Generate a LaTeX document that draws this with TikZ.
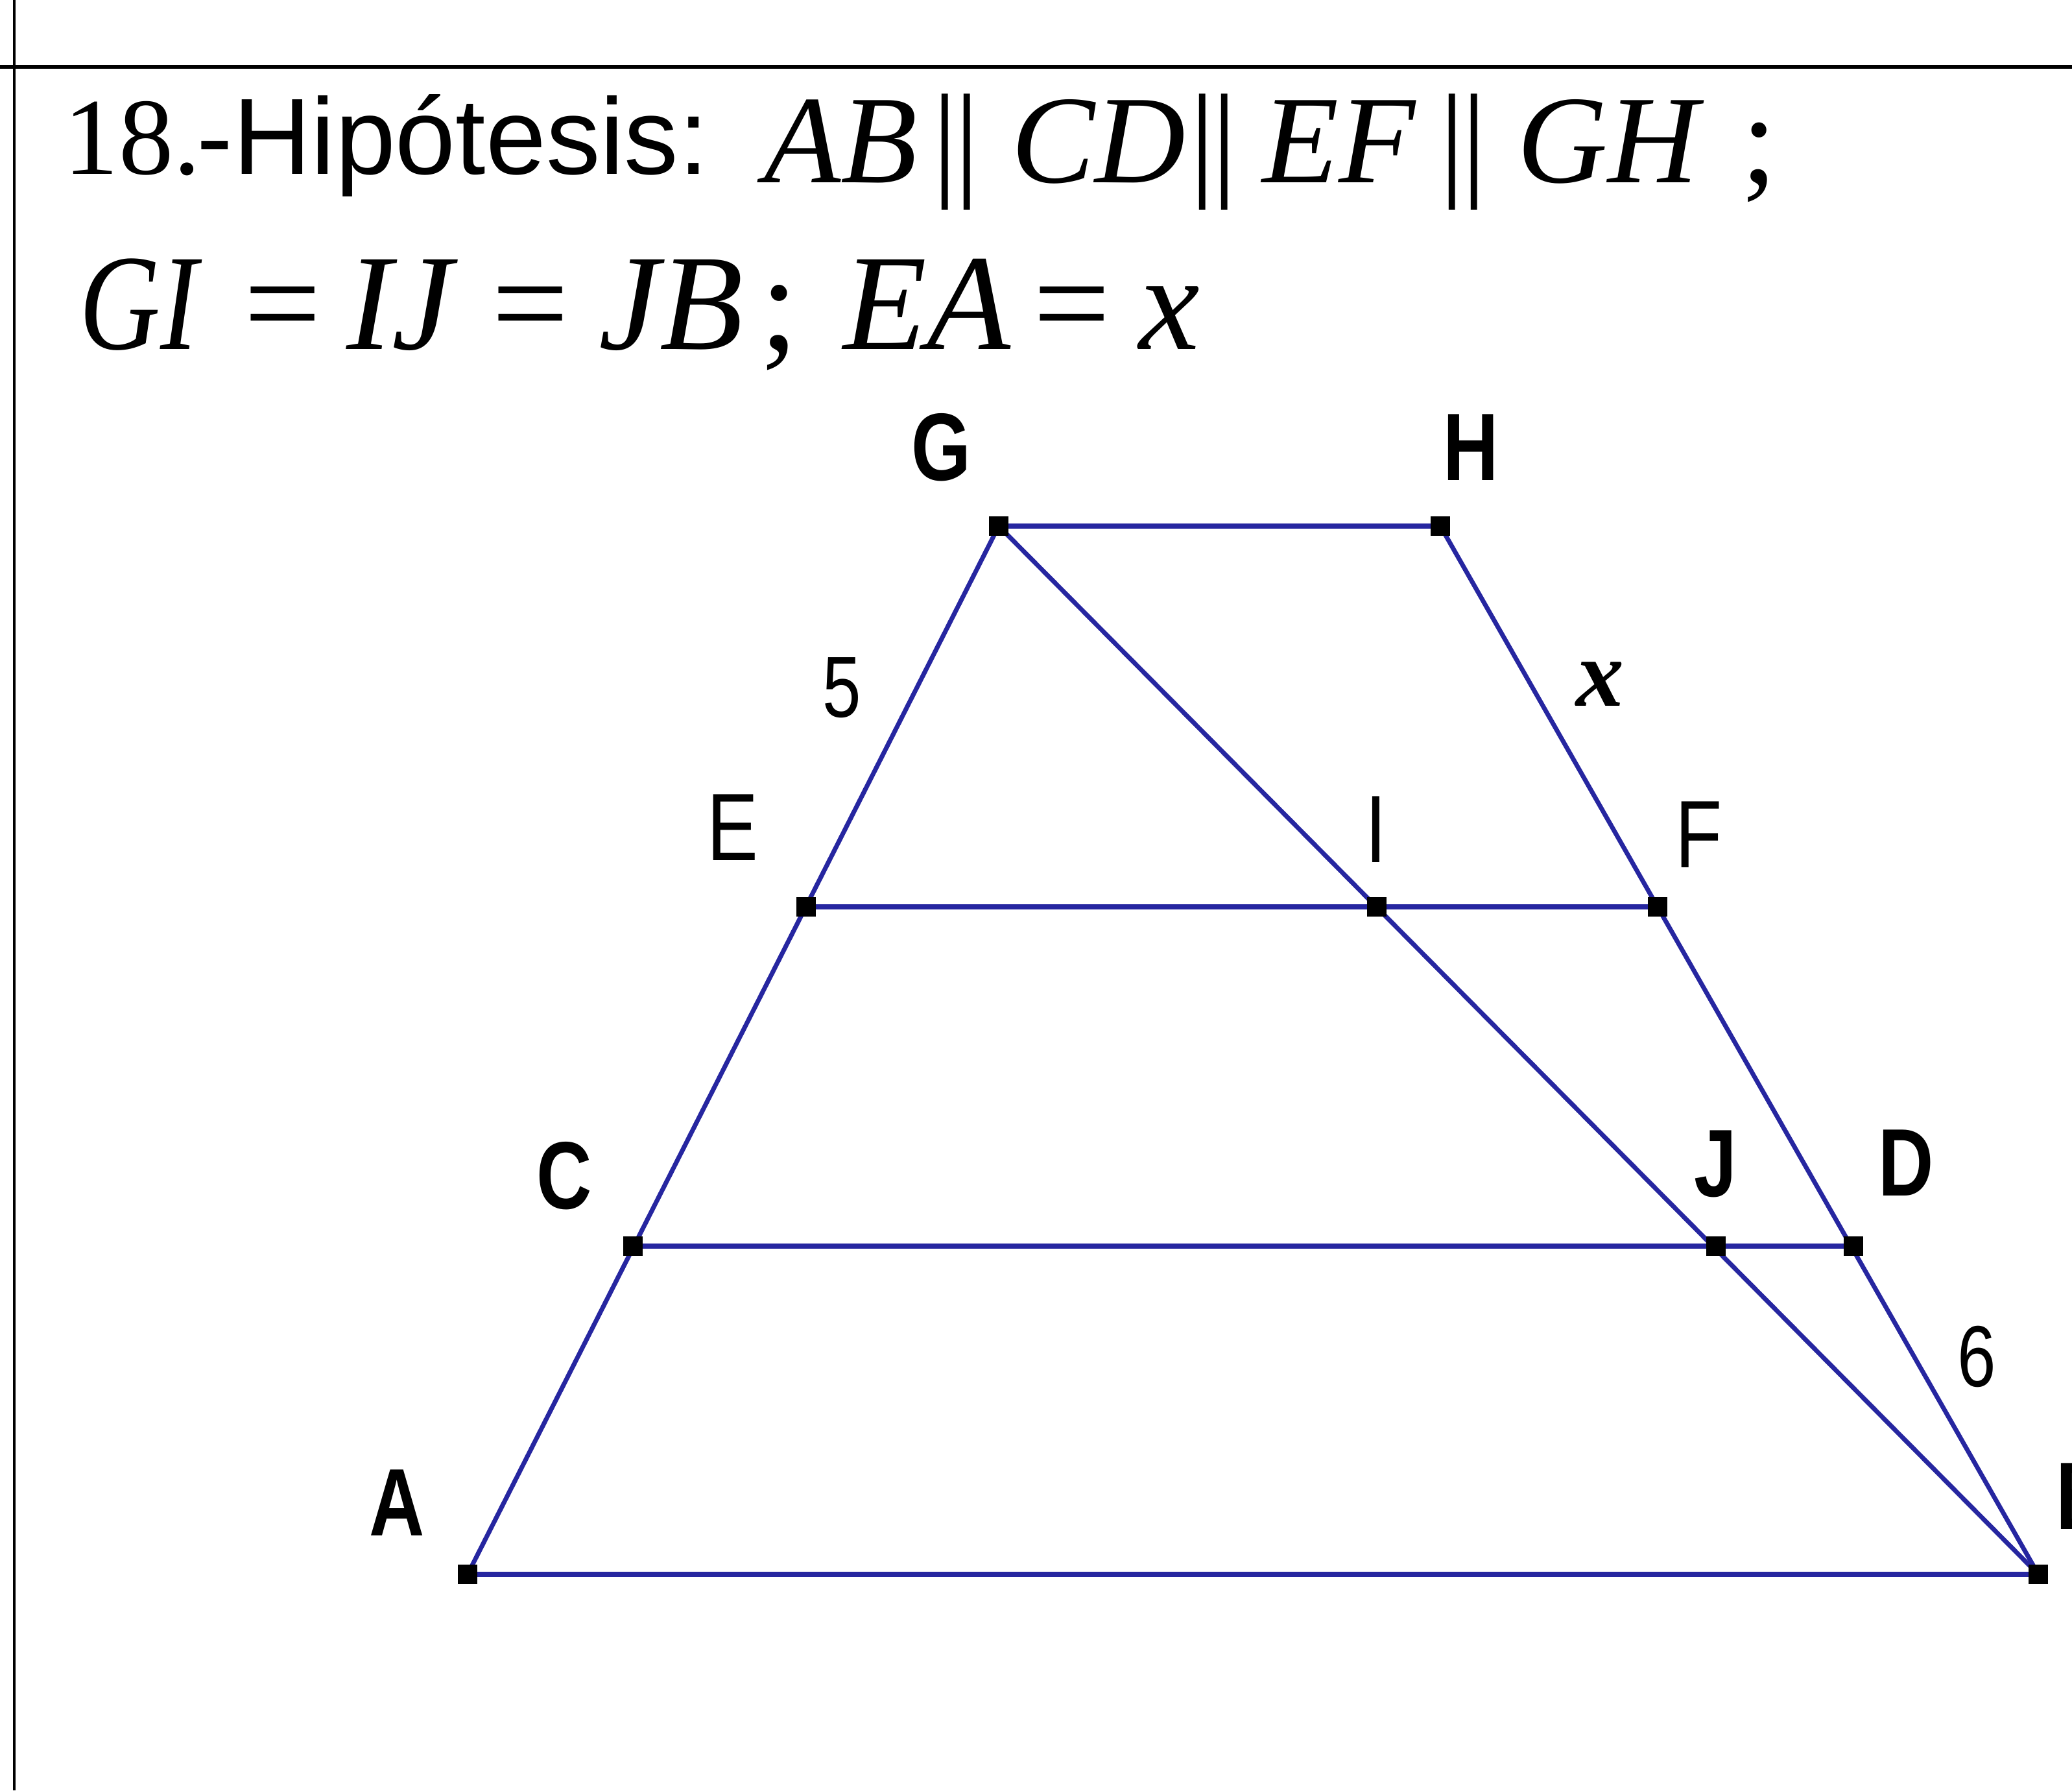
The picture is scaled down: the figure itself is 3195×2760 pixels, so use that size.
\documentclass[tikz,border=0pt]{standalone}
\usepackage{fontspec}
\setmainfont{Liberation Serif}
\newfontfamily\arialf{Liberation Sans}
\definecolor{segblue}{RGB}{38,38,160}
\newcommand{\nar}[1]{\scalebox{0.8}[1]{#1}}
\begin{document}
\begin{tikzpicture}[x=0.01cm,y=-0.01cm,
  seg/.style={draw=segblue,line width=0.085cm},
  slant/.style={draw=segblue,line width=0.07cm},
  pt/.style={rectangle,fill=black,minimum size=0.3cm,inner sep=0pt,outer sep=0pt},
  lblb/.style={inner sep=0pt,font=\arialf\bfseries\fontsize{42}{42}\selectfont},
  lblr/.style={inner sep=0pt,font=\arialf\fontsize{42}{42}\selectfont},
  num/.style={inner sep=0pt,font=\arialf\fontsize{38}{38}\selectfont},
  mone/.style={inner sep=0pt,anchor=base west,font=\itshape\fontsize{55}{55}\selectfont},
  mtwo/.style={inner sep=0pt,anchor=base west,font=\itshape\fontsize{60}{60}\selectfont},
  eqs/.style={inner sep=0pt,anchor=base,font=\fontsize{60}{60}\selectfont},
  par/.style={inner sep=0pt,anchor=base,font=\fontsize{56}{56}\selectfont}]
\useasboundingbox (0,0) rectangle (3195,2760);
\fill[white] (0,0) rectangle (3195,2760);
% frame
\coordinate (fL) at (0,103);
\coordinate (fR) at (3195,103);
\coordinate (vT) at (22,0);
\coordinate (vB) at (22,2760);
\draw[line width=0.06cm] (fL) -- (fR);
\draw[line width=0.045cm] (vT) -- (vB);
% heading
\node[inner sep=0pt,anchor=base west,font=\fontsize{48}{48}\selectfont] (num18) at (98,268) {18.};
\node[inner sep=0pt,anchor=base west,font=\arialf\fontsize{47.5}{47.5}\selectfont] (hip) at (303,268) {-Hipótesis:};
\node[mone] (tAB) at (1178,281) {AB};
\node[par] (p1) at (1474,281) {|\kern-1.6pt|};
\node[mone] (tCD) at (1559,281) {CD};
\node[par] (p2) at (1871,281) {|\kern-1.6pt|};
\node[mone] (tEF) at (1946,281) {EF};
\node[par] (p3) at (2256,281) {|\kern-1.6pt|};
\node[mone] (tGH) at (2339,281) {GH};
\node[inner sep=0pt,anchor=base west,font=\fontsize{56}{56}\selectfont] (sc1) at (2685,281) {;};
% second line
\node[mtwo] (tGI) at (122,538) {\scalebox{0.82}[1]{GI}};
\node[eqs] (e1) at (436,538) {=};
\node[mtwo] (tIJ) at (534,538) {IJ};
\node[eqs] (e2) at (818,538) {=};
\node[mtwo] (tJB) at (923,538) {JB};
\node[inner sep=0pt,anchor=base west,font=\fontsize{60}{60}\selectfont] (sc2) at (1172,538) {;};
\node[mtwo] (tEA) at (1300,538) {EA};
\node[eqs] (e3) at (1653,538) {=};
\node[mtwo] (tx) at (1756,538) {x};
% points
\coordinate (G) at (1540,811);
\coordinate (H) at (2221,811);
\coordinate (E) at (1243,1398);
\coordinate (I) at (2123,1398);
\coordinate (F) at (2556,1398);
\coordinate (C) at (976,1921);
\coordinate (J) at (2646,1921);
\coordinate (D) at (2858,1921);
\coordinate (A) at (721,2427);
\coordinate (B) at (3143,2427);
% segments
\draw[seg] (G) -- (H);
\draw[seg] (E) -- (F);
\draw[seg] (C) -- (D);
\draw[seg] (A) -- (B);
\draw[slant] (A) -- (G);
\draw[slant] (H) -- (B);
\draw[slant] (G) -- (B);
% markers
\foreach \p in {G,H,E,I,F,C,J,D,A,B}{\node[pt] (sq\p) at (\p) {};}
% labels
\node[lblb] (lG) at (1451,690) {\nar{G}};
\node[lblb] (lH) at (2268,690) {\nar{H}};
\node[lblr] (lE) at (1130,1276) {\nar{E}};
\node[lblr] (lI) at (2122,1279) {\nar{I}};
\node[lblr] (lF) at (2620,1287) {\nar{F}};
\node[lblb] (lC) at (870,1813) {\nar{C}};
\node[lblb] (lJ) at (2645,1794) {\nar{J}};
\node[lblb] (lD) at (2939,1793) {\nar{D}};
\node[lblb] (lA) at (612,2317) {\nar{A}};
\node[lblb,anchor=west] (lB) at (3170,2307) {\nar{B}};
\node[num] (l5) at (1298,1060) {\nar{5}};
\node[num] (l6) at (3048,2091) {\nar{6}};
\node[inner sep=0pt,font=\bfseries\itshape\fontsize{42}{42}\selectfont] (lx) at (2467,1055) {x};
\end{tikzpicture}
\end{document}
